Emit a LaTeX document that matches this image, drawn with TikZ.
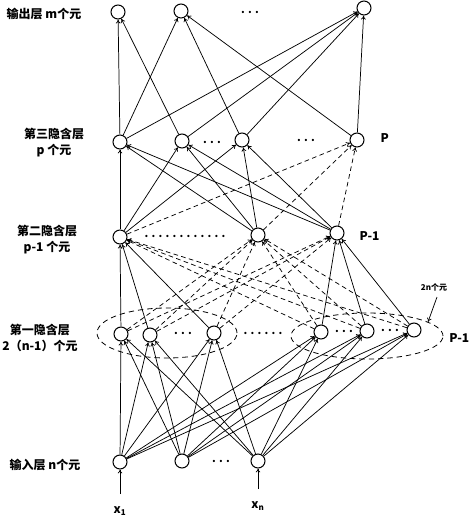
\documentclass[tikz,border=0pt]{standalone}
\usepackage{fontspec}
\setmainfont{Noto Sans CJK SC}
\usetikzlibrary{arrows.meta,shapes.geometric}
\begin{document}
\begin{tikzpicture}[x=0.75pt,y=-0.75pt,
        neuron/.style={draw,circle,minimum size=10.5pt,inner sep=0pt,line width=0.8pt},
        link/.style={-{To[length=3pt,width=3.5pt]},line width=0.55pt},
        weaklink/.style={link,dash pattern=on 3.5pt off 2.5pt},
        group/.style={draw,ellipse,inner sep=0pt,line width=0.6pt,dash pattern=on 4pt off 3pt},
        layer/.style={font=\bfseries\fontsize{9}{12}\selectfont,align=center},
        dots/.style={font=\bfseries\fontsize{8}{10}\selectfont}]
        \useasboundingbox (0,0) rectangle (474,518);
        \node[neuron] (O1) at (118,12) {};
        \node[neuron] (O2) at (181,11) {};
        \node[neuron] (Om) at (364,8) {};
        \node[neuron] (T1) at (120,142) {};
        \node[neuron] (T2) at (182,141) {};
        \node[neuron] (T3) at (242,140) {};
        \node[neuron] (Tp) at (357,140) {};
        \node[neuron] (S1) at (120,237) {};
        \node[neuron] (S2) at (258,235) {};
        \node[neuron] (Sp) at (337,233) {};
        \node[neuron] (F1) at (121,334) {};
        \node[neuron] (F2) at (150,335) {};
        \node[neuron] (F3) at (214,333) {};
        \node[neuron] (F4) at (321,332) {};
        \node[neuron] (F5) at (367,331) {};
        \node[neuron] (F6) at (414,330) {};
        \node[neuron] (I1) at (120,462) {};
        \node[neuron] (I2) at (182,461) {};
        \node[neuron] (In) at (258,461) {};
        \node[group,minimum width=105pt,minimum height=37.5pt] (left) at (167,333) {};
        \node[group,minimum width=114pt,minimum height=34.5pt] (right) at (367,336) {};
        \node[layer] (outlabel) at (44,14) {输出层 m个元};
        \node[layer] (thirdlabel) at (54,143) {第三隐含层\\p 个元};
        \node[layer] (secondlabel) at (47,240) {第二隐含层\\p-1 个元};
        \node[layer] (firstlabel) at (40,338) {第一隐含层\\2（n-1）个元};
        \node[layer] (inlabel) at (45,465) {输入层 n个元};
        \node[layer,anchor=west] (plabel) at (376,138) {P};
        \node[layer,anchor=west] (p1label) at (355,236) {P-1};
        \node[layer,anchor=east] (p1right) at (474,338) {P-1};
        \node[font=\bfseries\fontsize{6}{7}\selectfont] (note) at (434,287) {2n个元};
        \draw[link] (437,297) -- (right.13);
        \node[dots] (dO) at (250,12) {. . .};
        \node[dots] (dT1) at (212,142) {. . .};
        \node[dots] (dT2) at (306,140) {. . .};
        \node[dots] (dS) at (185,236) {. . . . . . . . . . . .};
        \node[dots] (dF1) at (183,333) {. . .};
        \node[dots] (dF2) at (263,333) {. . . . . .};
        \node[dots] (dF3) at (344,331) {. . .};
        \node[dots] (dF4) at (390,330) {. . .};
        \node[dots] (dI) at (221,461) {. . .};
        \node[layer] (x1) at (120,511) {x\textsubscript{1}};
        \node[layer] (xn) at (258,506) {x\textsubscript{n}};
        \draw[link,shorten <=6pt] (x1) -- (I1);
        \draw[link,shorten <=6pt] (xn) -- (In);
        \foreach \a/\b in {T1/O1,T2/O1,T1/O2,T3/O2,Tp/O2,T1/Om,T2/Om,T3/Om,Tp/Om}
                \draw[link] (\a) -- (\b);
        \foreach \a in {S1,S2,Sp} {
                \foreach \b in {T1,T2,T3} \draw[link] (\a) -- (\b);
                \draw[weaklink] (\a) -- (Tp);}
        \foreach \a in {F1,F2,F3} {
                \draw[link] (\a) -- (S1);
                \draw[weaklink] (\a) -- (S2);
                \draw[weaklink] (\a) -- (Sp);}
        \foreach \a in {F4,F5,F6} {
                \draw[link] (\a) -- (Sp);
                \draw[weaklink] (\a) -- (S1);
                \draw[weaklink] (\a) -- (S2);}
        \foreach \a in {I1,I2,In}
                \foreach \b in {F1,F2,F3,F4,F5,F6} \draw[link] (\a) -- (\b);
\end{tikzpicture}
\end{document}
